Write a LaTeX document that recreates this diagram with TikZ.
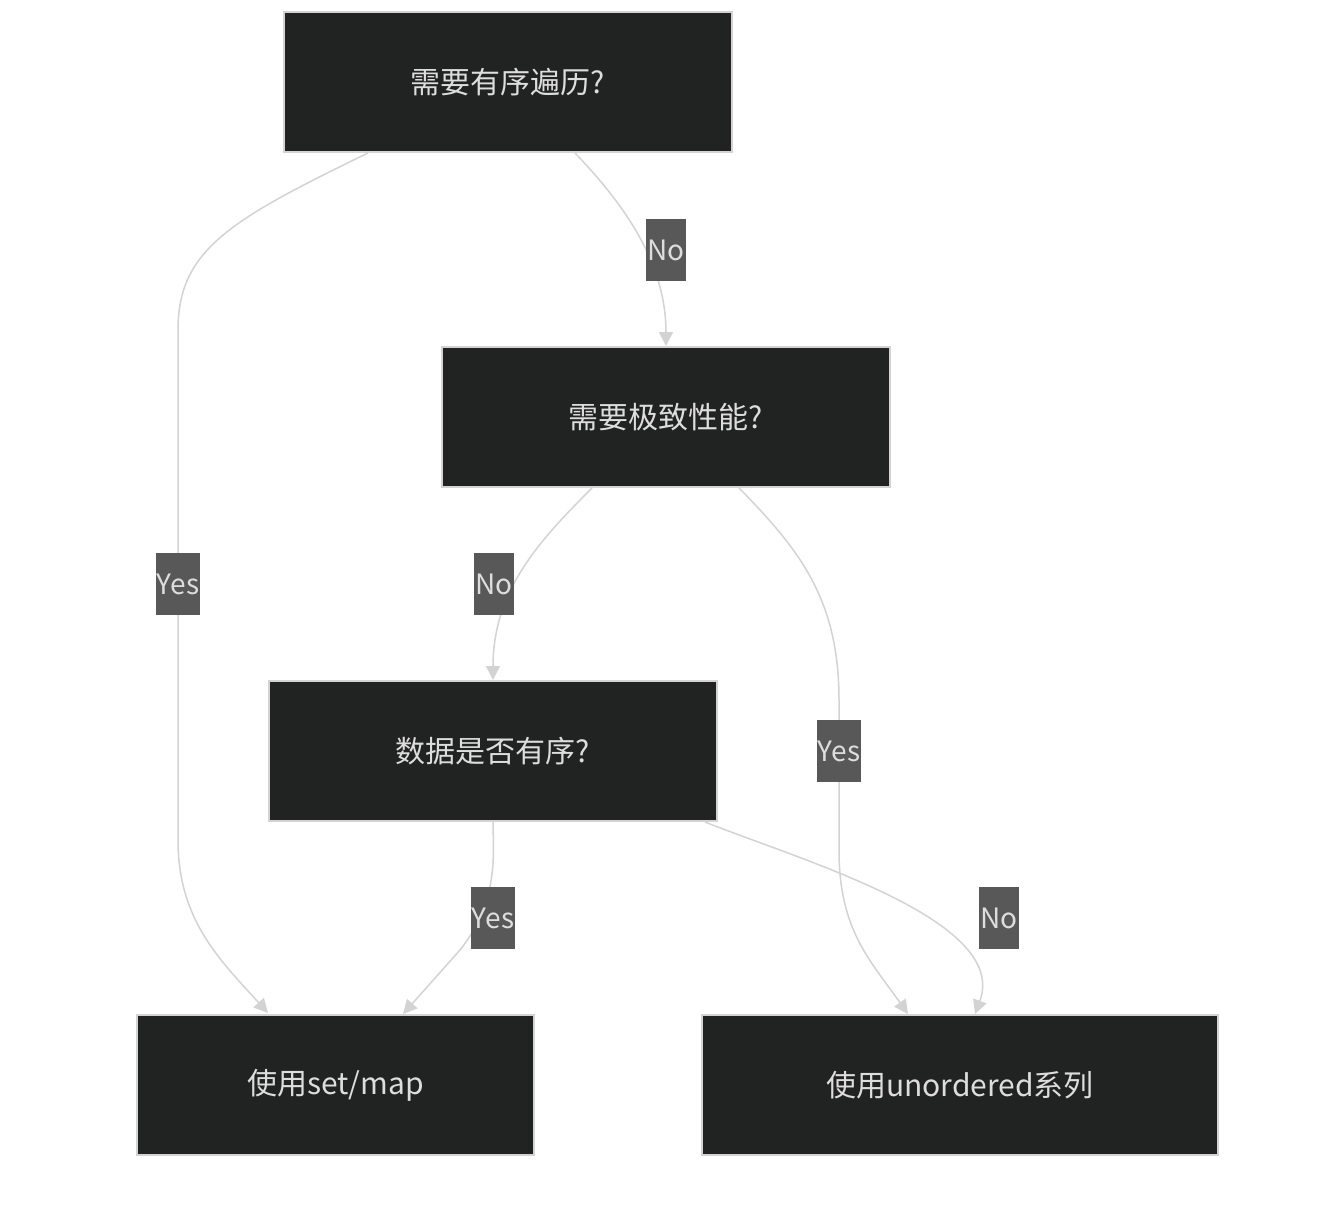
\documentclass[tikz,border=0pt]{standalone}
\usepackage{fontspec}
\setmainfont{Noto Sans CJK SC}
\usetikzlibrary{arrows.meta}
\definecolor{nodebg}{HTML}{212322}
\definecolor{edgec}{HTML}{D3D3D3}
\definecolor{lblbg}{HTML}{585858}
\definecolor{txt}{HTML}{DDDDDD}
\begin{document}
\begin{tikzpicture}[x=1pt,y=-1pt,
  box/.style={draw=edgec,line width=1.5pt,fill=nodebg,text=txt,font=\fontsize{30}{36}\selectfont,inner sep=0pt},
  lbl/.style={fill=lblbg,text=txt,font=\fontsize{28}{32}\selectfont,inner sep=1pt,minimum height=62pt},
  edge/.style={draw=edgec,line width=1.5pt,-{Triangle[length=14pt,width=14pt]}}]
\useasboundingbox (0,0) rectangle (1342,1221);
\node[box,minimum width=448pt,minimum height=140pt] (a) at (508,82) {需要有序遍历?};
\node[box,minimum width=448pt,minimum height=140pt] (b) at (666,417) {需要极致性能?};
\node[box,minimum width=448pt,minimum height=140pt] (c) at (493,751) {数据是否有序?};
\node[box,minimum width=397pt,minimum height=140pt] (d) at (335.5,1085) {使用set/map};
\node[box,minimum width=516pt,minimum height=140pt] (e) at (960,1085) {使用unordered系列};
\coordinate (a1) at (368,153); \coordinate (d1) at (268,1013);
\coordinate (a2) at (575,153); \coordinate (b1) at (666,346);
\coordinate (b2) at (592,488); \coordinate (c1) at (493,680);
\coordinate (b3) at (739,488); \coordinate (e1) at (908,1014);
\coordinate (c2) at (493,822); \coordinate (d2) at (403,1014);
\coordinate (c3) at (705,822); \coordinate (e2) at (975,1014);
\draw[edge] (a1) .. controls (230,220) and (178,250) .. (178,330) -- (178,840) .. controls (178,920) and (220,960) .. (d1);
\draw[edge] (a2) .. controls (620,200) and (666,260) .. (b1);
\draw[edge] (b2) .. controls (540,540) and (493,590) .. (c1);
\draw[edge] (b3) .. controls (800,550) and (839,600) .. (839,700) -- (839,850) .. controls (839,930) and (870,960) .. (e1);
\draw[edge] (c2) .. controls (493,850) and (500,900) .. (460,950) -- (d2);
\draw[edge] (c3) .. controls (800,860) and (1010,920) .. (e2);
\node[lbl] (l1) at (178,584) {Yes};
\node[lbl] (l2) at (666,250) {No};
\node[lbl] (l3) at (494,584) {No};
\node[lbl] (l4) at (839,751) {Yes};
\node[lbl] (l5) at (493,918) {Yes};
\node[lbl] (l6) at (999,918) {No};
\end{tikzpicture}
\end{document}
